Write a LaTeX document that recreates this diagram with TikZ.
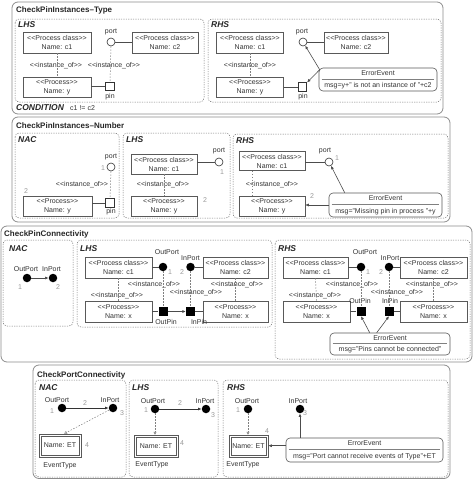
\documentclass[tikz,border=0pt]{standalone}
\usepackage{fontspec}
\setmainfont{Liberation Sans}
\usetikzlibrary{arrows.meta,calc}
\newcommand\sO{<\kern0pt<}
\newcommand\sC{>\kern0pt>}
\newcommand\inst{\sO instance\_of\sC}
\begin{document}
\begin{tikzpicture}[x=1pt,y=-1pt,
  panel/.style={draw=black!45, line width=0.8pt, rounded corners=6pt},
  region/.style={draw=black!55, line width=0.5pt, dash pattern=on 1.2pt off 1.2pt, rounded corners=4pt},
  ttl/.style={anchor=west, font=\fontsize{8}{9}\selectfont\bfseries, inner sep=0, text=black!85},
  rlab/.style={anchor=west, font=\fontsize{8.5}{10}\selectfont\bfseries\itshape, inner sep=0, text=black!85},
  box/.style={draw=black!65, line width=0.5pt, align=center, font=\fontsize{7}{9}\selectfont, inner sep=0, text=black!80},
  sm/.style={font=\fontsize{7}{8}\selectfont, inner sep=0, text=black!80},
  num/.style={font=\fontsize{7}{8}\selectfont, inner sep=0, text=black!40},
  oport/.style={circle, draw=black!80, line width=0.6pt, fill=white, minimum size=8pt, inner sep=0},
  fport/.style={circle, fill=black, minimum size=8.5pt, inner sep=0},
  opin/.style={rectangle, draw=black!80, line width=0.6pt, fill=white, minimum size=8.5pt, inner sep=0},
  fpin/.style={rectangle, fill=black, minimum size=9pt, inner sep=0},
  conn/.style={draw=black!70, line width=0.6pt},
  instl/.style={draw=black!50, line width=0.5pt, dash pattern=on 1.5pt off 1.5pt},
  arr/.style={conn, -{Latex[length=3.5pt,width=3pt]}},
  thk/.style={draw=black!80, line width=1pt, -{Latex[length=3.5pt,width=3pt]}},
  otip/.style={instl, -{Triangle[open,length=3pt,width=3pt]}},
  err/.style={draw=black!65, line width=0.6pt, rounded corners=4pt, inner sep=0},
  sepl/.style={draw=black!50, line width=0.4pt},
  etbox/.style={draw=black!65, line width=0.5pt, font=\fontsize{7}{8}\selectfont, inner sep=0, text=black!80},
  etin/.style={draw=black!65, line width=0.5pt}
]
\useasboundingbox (0,0) rectangle (474,479);

% ================= Panel 1 =================
\draw[panel] (12,2) rectangle (443,114);
\node[ttl] (t1) at (16,10) {CheckPinInstances\textendash Type};
\draw[region] (15,19) rectangle (204,102);
\node[rlab] (l1) at (18,25) {LHS};
\draw[region] (208,19) rectangle (441,102);
\node[rlab] (r1) at (211,25) {RHS};
\node[rlab] (cond) at (16,108) {CONDITION};
\node[sm, anchor=west] (condt) at (70,108) {c1 != c2};

% LHS
\node[box, minimum width=68pt, minimum height=21pt] (a1) at (57,42.5) {\sO Process class\sC\\Name: c1};
\node[oport] (a2) at (111,42) {};
\node[sm] (a2l) at (111,32) {port};
\node[box, minimum width=66pt, minimum height=21pt] (a3) at (165,42.5) {\sO Process class\sC\\Name: c2};
\node[box, minimum width=68pt, minimum height=20pt] (a4) at (57,87) {\sO Process\sC\\Name: y};
\node[opin] (a5) at (110,86.5) {};
\node[sm] (a5l) at (110,97) {pin};
\node[sm] (a6) at (56,66) {\inst};
\node[sm] (a7) at (114,66) {\inst};
\draw[conn] (a2.east) -- (a2.east -| a3.west);
\draw[conn] (a4.east |- a5) -- (a5.west);
\draw[instl] (a1.south) -- (a4.north);
\draw[instl] (a2.south) -- (a5.north);

% RHS
\node[box, minimum width=67pt, minimum height=21pt] (b1) at (250,42.5) {\sO Process class\sC\\Name: c1};
\node[oport] (b2) at (303,42) {};
\node[sm] (b2l) at (302,32) {port};
\node[box, minimum width=64pt, minimum height=21pt] (b3) at (356,42.5) {\sO Process class\sC\\Name: c2};
\node[box, minimum width=67pt, minimum height=20pt] (b4) at (250,87) {\sO Process\sC\\Name: y};
\node[opin] (b5) at (302.5,87) {};
\node[sm] (b5l) at (303,97) {pin};
\node[sm] (b6) at (250,66) {\inst};
\draw[conn] (b2.east) -- (b2.east -| b3.west);
\draw[conn] (b4.east |- b5) -- (b5.west);
\draw[instl] (b1.south) -- (b4.north);
\node[err, minimum width=118pt, minimum height=23pt] (b7) at (378,79.5) {};
\draw[sepl] ($(b7.north west)+(3,11)$) -- ($(b7.north east)+(-3,11)$);
\node[sm] (b7a) at ($(b7.north)+(0,5.5)$) {ErrorEvent};
\node[sm] (b7b) at ($(b7.south)+(0,-6)$) {msg=y+" is not an instance of "+c2};
\coordinate (b7c) at ($(b7.north west)+(1,2)$);
\draw[arr] (b7c) -- (b2);
\draw[arr] (b7c) -- (b5.north east);

% ================= Panel 2 =================
\draw[panel] (12,117) rectangle (450,222);
\node[ttl] (t2) at (16,126) {CheckPinInstances\textendash Number};
\draw[region] (15,133) rectangle (119,218);
\node[rlab] (n2) at (18,140) {NAC};
\draw[region] (123,133) rectangle (230,218);
\node[rlab] (l2) at (126,140) {LHS};
\draw[region] (233,134) rectangle (448,218);
\node[rlab] (r2) at (236,141) {RHS};

% NAC
\node[oport] (c1) at (111,167) {};
\node[sm] (c1l) at (111,157) {port};
\node[num] (c1n) at (103,168) {1};
\node[sm] (c2) at (82,185) {\inst};
\node[box, minimum width=69pt, minimum height=20pt] (c3) at (57.5,206) {\sO Process\sC\\Name: y};
\node[num] (c3n) at (26,191) {2};
\node[opin] (c4) at (110,203) {};
\node[sm] (c4l) at (111,212) {pin};
\draw[conn] (c3.east |- c4) -- (c4.west);
\draw[instl] (c1.south) -- (c4.north);

% LHS
\node[box, minimum width=66pt, minimum height=20pt] (d1) at (164,164) {\sO Process class\sC\\Name: c1};
\node[oport] (d2) at (219,162) {};
\node[sm] (d2l) at (219,151) {port};
\node[num] (d2n) at (222,172) {1};
\draw[conn] (d1.east |- d2) -- (d2.west);
\node[sm] (d3) at (163,185) {\inst};
\node[box, minimum width=66pt, minimum height=20pt] (d4) at (164,206) {\sO Process\sC\\Name: y};
\node[num] (d4n) at (205,200) {2};
\draw[instl] (d1.south) -- (d4.north);

% RHS
\node[box, minimum width=66pt, minimum height=19pt] (e1) at (272,161) {\sO Process class\sC\\Name: c1};
\node[oport] (e2) at (329,162) {};
\node[sm] (e2l) at (325,151) {port};
\node[num] (e2n) at (337,158) {1};
\draw[conn] (e1.east |- e2) -- (e2.west);
\node[sm] (e3) at (272,185) {\inst};
\node[box, minimum width=66pt, minimum height=20pt] (e4) at (272,206) {\sO Process\sC\\Name: y};
\node[num] (e4n) at (312,196) {2};
\draw[instl] ($(e1.south west)+(13,0)$) -- ($(e4.north west)+(13,0)$);
\node[err, minimum width=113pt, minimum height=24pt] (e5) at (385.5,205) {};
\draw[sepl] ($(e5.north west)+(3,11)$) -- ($(e5.north east)+(-3,11)$);
\node[sm] (e5a) at ($(e5.north)+(0,5.5)$) {ErrorEvent};
\node[sm] (e5b) at ($(e5.south)+(0,-6)$) {msg="Missing pin in process "+y};
\draw[arr] (e5.west) -- (e5.west -| e4.east);
\draw[arr] ($(e5.north west)+(16,0)$) -- (e2);

% ================= Panel 3 =================
\draw[panel] (1,226) rectangle (472,362);
\node[ttl] (t3) at (4,234) {CheckPinConnectivity};
\draw[region] (3,240) rectangle (73,326);
\node[rlab] (n3) at (9,249) {NAC};
\draw[region] (77,240) rectangle (272,327);
\node[rlab] (l3) at (80,249) {LHS};
\draw[region] (275,240) rectangle (470,359);
\node[rlab] (r3) at (278,249) {RHS};

% NAC
\node[fport] (f1) at (27,278) {};
\node[fport] (f2) at (53,278) {};
\node[sm] (f1l) at (26,269) {OutPort};
\node[sm] (f2l) at (51.5,269) {InPort};
\node[num] (f1n) at (20,287) {1};
\node[num] (f2n) at (58,287) {2};
\draw[arr] (f1) -- (f2);

% LHS
\node[box, minimum width=67pt, minimum height=21pt] (g1) at (118.5,267.5) {\sO Process class\sC\\Name: c1};
\node[fport] (g2) at (163,267) {};
\node[sm] (g2l) at (167,252) {OutPort};
\node[num] (g2n) at (170,272) {1};
\node[fport] (g3) at (190.5,267) {};
\node[sm] (g3l) at (190.5,258) {InPort};
\node[num] (g3n) at (182,272) {2};
\node[box, minimum width=65pt, minimum height=21pt] (g4) at (235.5,267.5) {\sO Process class\sC\\Name: c2};
\draw[conn] (g1.east |- g2) -- (g2.west);
\draw[conn] (g3.east) -- (g3.east -| g4.west);
\node[box, minimum width=67pt, minimum height=21pt] (g5) at (118.5,311.5) {\sO Process\sC\\Name: x};
\node[box, minimum width=65pt, minimum height=21pt] (g6) at (235.5,311.5) {\sO Process\sC\\Name: x};
\node[fpin] (g7) at (163,311.5) {};
\node[fpin] (g8) at (190.5,311.5) {};
\node[sm] (g7l) at (166,322) {OutPin};
\node[sm] (g8l) at (199,322) {InPin};
\draw[conn] (g5.east) -- (g7.west);
\draw[arr] (g7) -- (g8);
\draw[conn] (g8.east) -- (g6.west);
\node[sm] (g9) at (154,285) {\inst};
\node[sm] (g10) at (196,293) {\inst};
\node[sm] (g11) at (237,285) {\inst};
\node[sm] (g12) at (117,296) {\inst};
\draw[instl] (g1.south) -- (g5.north);
\draw[instl] (g2.south) -- (g7.north);
\draw[instl] (g3.south) -- (g8.north);
\draw[instl] (g4.south) -- (g6.north);

% RHS
\node[box, minimum width=65pt, minimum height=21pt] (h1) at (315.5,267.5) {\sO Process class\sC\\Name: c1};
\node[fport] (h2) at (361,267) {};
\node[sm] (h2l) at (365,252) {OutPort};
\node[num] (h2n) at (368,272) {1};
\node[fport] (h3) at (389,267) {};
\node[sm] (h3l) at (390,258) {InPort};
\node[num] (h3n) at (381,272) {2};
\node[box, minimum width=67pt, minimum height=21pt] (h4) at (433.5,267.5) {\sO Process class\sC\\Name: c2};
\draw[conn] (h1.east |- h2) -- (h2.west);
\draw[conn] (h3.east) -- (h3.east -| h4.west);
\node[box, minimum width=67pt, minimum height=21pt] (h5) at (316.5,311.5) {\sO Process\sC\\Name: x};
\node[box, minimum width=67pt, minimum height=21pt] (h6) at (433.5,311.5) {\sO Process\sC\\Name: x};
\node[fpin] (h7) at (361,311.5) {};
\node[sm] (h7l) at (360,301) {OutPin};
\node[fpin] (h8) at (389,311.5) {};
\node[sm] (h8l) at (390,301) {InPin};
\draw[conn] (h5.east) -- (h7.west);
\draw[conn] (h8.east) -- (h6.west);
\node[sm] (h9a) at (352,285) {\inst};
\node[sm] (h9b) at (432,285) {\inst};
\node[sm] (h9c) at (397,293) {\inst};
\node[sm] (h9d) at (315,296) {\inst};
\draw[instl] (h1.south) -- (h5.north);
\draw[instl] (h2.south) -- (h7.north);
\draw[instl] (h3.south) -- (h8.north);
\draw[instl] (h4.south) -- (h6.north);
\node[err, minimum width=120pt, minimum height=22pt] (h10) at (390,344) {};
\draw[sepl] ($(h10.north west)+(3,10.5)$) -- ($(h10.north east)+(-3,10.5)$);
\node[sm] (h10a) at ($(h10.north)+(0,5.5)$) {ErrorEvent};
\node[sm] (h10b) at ($(h10.south)+(0,-5.5)$) {msg="Pins cannot be connected"};
\draw[arr] ($(h10.north west)+(40,0)$) -- (h7.south);
\draw[arr] ($(h10.north west)+(47,0)$) -- (h8.south);

% ================= Panel 4 =================
\draw[panel] (33,365) rectangle (450,478.5);
\node[ttl] (t4) at (37,375) {CheckPortConnectivity};
\draw[region] (35,380) rectangle (126,477);
\node[rlab] (n4) at (39,388) {NAC};
\draw[region] (129,380) rectangle (218,477);
\node[rlab] (l4) at (132,388) {LHS};
\draw[region] (223,380) rectangle (448,477);
\node[rlab] (r4) at (227,388) {RHS};

% NAC
\node[fport] (i1) at (62,408) {};
\node[sm] (i1l) at (57,400) {OutPort};
\node[num] (i1n) at (52,411) {1};
\node[fport] (i2) at (113,408) {};
\node[sm] (i2l) at (110,400) {InPort};
\node[num] (i2n) at (122,413) {3};
\node[num] (i3) at (85,403) {2};
\draw[thk] (i1) -- (i2);
\node[etbox, minimum width=42pt, minimum height=23pt] (i4) at (60,445.5) {Name: ET};
\draw[etin] ($(i4.north west)+(2.5,2.5)$) rectangle ($(i4.south east)+(-2.5,-2.5)$);
\node[num] (i4n) at (87,445) {4};
\node[sm] (i4l) at (60,466) {EventType};
\coordinate (i4t) at ($(i4.north)+(4,0)$);
\draw[otip] (i2) -- (i4t);

% LHS
\node[fport] (j1) at (155,409) {};
\node[sm] (j1l) at (153,401) {OutPort};
\node[num] (j1n) at (146,410) {1};
\node[fport] (j2) at (206,409) {};
\node[sm] (j2l) at (205,401) {InPort};
\node[num] (j2n) at (213,415) {3};
\node[num] (j3) at (180,403) {2};
\draw[thk] (j1) -- (j2);
\node[etbox, minimum width=44pt, minimum height=22pt] (j4) at (156,446) {Name: ET};
\draw[etin] ($(j4.north west)+(2.5,2.5)$) rectangle ($(j4.south east)+(-2.5,-2.5)$);
\node[num] (j4n) at (182,443) {4};
\node[sm] (j4l) at (152,465) {EventType};
\coordinate (j4t) at ($(j4.north)+(-1,0)$);
\draw[otip] (j1.south) -- (j4t);

% RHS
\node[fport] (k1) at (248,409) {};
\node[sm] (k1l) at (247,401) {OutPort};
\node[num] (k1n) at (238,410) {1};
\node[etbox, minimum width=39pt, minimum height=22pt] (k4) at (248.5,446) {Name: ET};
\draw[etin] ($(k4.north west)+(2.5,2.5)$) rectangle ($(k4.south east)+(-2.5,-2.5)$);
\node[num] (k4n) at (267,431) {4};
\node[sm] (k4l) at (243,465) {EventType};
\coordinate (k4t) at ($(k4.north)+(-0.5,0)$);
\draw[otip] (k1.south) -- (k4t);
\node[fport] (k2) at (300,409) {};
\node[sm] (k2l) at (298,401) {InPort};
\node[num] (k2n) at (305,413) {3};
\node[err, minimum width=157pt, minimum height=24pt] (k5) at (364.5,450) {};
\draw[sepl] ($(k5.north west)+(3,11)$) -- ($(k5.north east)+(-3,11)$);
\node[sm] (k5a) at ($(k5.north)+(0,5.5)$) {ErrorEvent};
\node[sm] (k5b) at ($(k5.south)+(0,-6)$) {msg="Port cannot receive events of Type"+ET};
\draw[arr] (k5.north -| k2) -- (k2.south);
\coordinate (k5w) at ($(k5.north west)+(0,8)$);
\draw[arr] (k5w) -- (k5w -| k4.east);
\end{tikzpicture}
\end{document}
